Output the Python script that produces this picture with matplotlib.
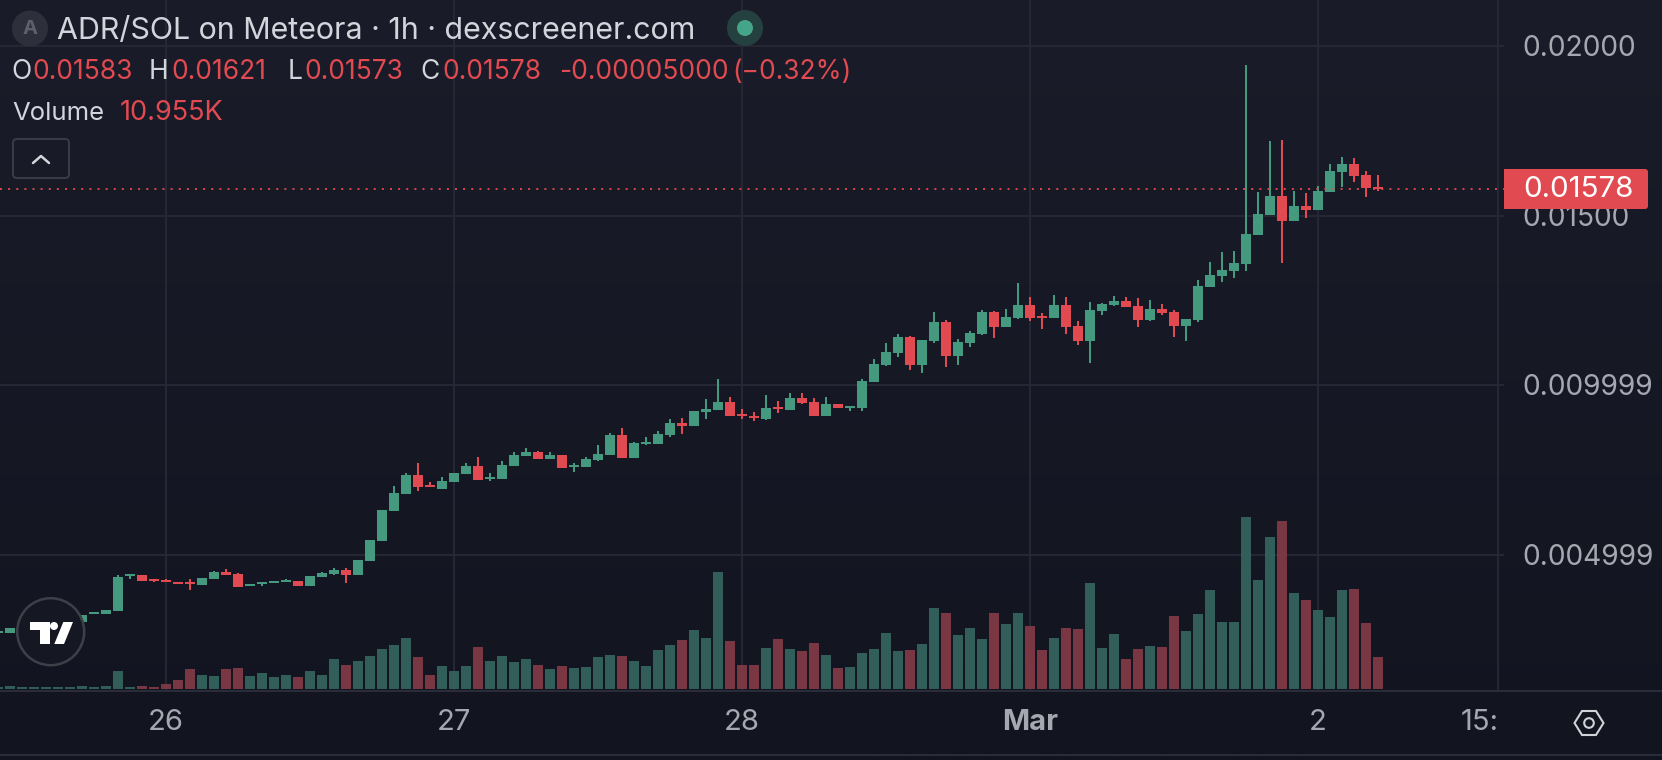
import numpy as np
import matplotlib
matplotlib.use('Agg')
import matplotlib.pyplot as plt
from matplotlib.patches import Circle, Polygon, FancyBboxPatch, Rectangle
from matplotlib.transforms import Bbox, TransformedBbox, IdentityTransform

# OHLC in units of 0.00001 SOL, one candle per hour
opens = [273, 273, 287, 291, 294, 297, 301, 305, 329, 329, 337, 440, 443, 432, 429, 423, 423, 414, 432, 452,
         446, 411, 417, 420, 423, 426, 411, 437, 446, 458, 443, 484, 543, 632, 682, 738, 708, 696, 717, 740,
         764, 726, 726, 764, 793, 805, 785, 796, 761, 761, 782, 796, 855, 788, 829, 829, 855, 890, 882, 923,
         929, 952, 917, 911, 902, 938, 929, 964, 952, 911, 946, 934, 934, 1011, 1061, 1096, 1143, 1061, 1132, 1187,
         1087, 1126, 1152, 1217, 1173, 1199, 1237, 1205, 1199, 1237, 1176, 1132, 1220, 1237, 1249, 1234, 1193, 1226, 1217, 1176,
         1193, 1290, 1323, 1337, 1358, 1443, 1502, 1558, 1484, 1529, 1517, 1570, 1629, 1652, 1620, 1583]
highs = [279, 287, 291, 295, 297, 302, 306, 326, 334, 340, 443, 446, 443, 432, 432, 423, 432, 434, 455, 461,
         449, 417, 423, 426, 432, 426, 440, 452, 464, 464, 487, 546, 634, 705, 743, 773, 717, 732, 743, 773,
         790, 743, 779, 805, 817, 808, 805, 796, 773, 790, 826, 861, 876, 835, 849, 867, 902, 905, 926, 961,
         1020, 967, 932, 923, 973, 955, 979, 979, 964, 967, 946, 940, 1020, 1079, 1126, 1152, 1146, 1134, 1217, 1193,
         1137, 1161, 1223, 1220, 1226, 1302, 1261, 1214, 1267, 1261, 1190, 1246, 1243, 1264, 1261, 1258, 1252, 1240, 1223, 1196,
         1311, 1364, 1393, 1396, 1943, 1570, 1720, 1723, 1573, 1567, 1587, 1652, 1673, 1670, 1632, 1621]
lows = [273, 273, 286, 290, 293, 296, 300, 305, 329, 329, 337, 432, 426, 423, 423, 417, 399, 414, 432, 443,
        408, 411, 411, 420, 423, 411, 411, 437, 443, 420, 443, 484, 543, 632, 682, 690, 702, 696, 717, 740,
        723, 720, 726, 764, 793, 785, 785, 758, 746, 761, 779, 796, 788, 788, 826, 829, 849, 858, 882, 902,
        929, 911, 902, 896, 899, 920, 929, 946, 911, 911, 934, 926, 926, 1011, 1058, 1084, 1046, 1037, 1126, 1055,
        1061, 1114, 1149, 1140, 1173, 1196, 1190, 1167, 1199, 1152, 1120, 1067, 1208, 1234, 1232, 1173, 1190, 1208, 1143, 1132,
        1187, 1290, 1305, 1317, 1337, 1443, 1502, 1361, 1484, 1493, 1517, 1570, 1585, 1599, 1555, 1573]
closes = [279, 287, 291, 294, 297, 301, 305, 326, 334, 340, 437, 446, 426, 426, 423, 417, 417, 434, 452, 443,
          408, 417, 423, 426, 429, 411, 440, 449, 458, 443, 487, 546, 634, 684, 737, 702, 702, 720, 743, 764,
          723, 732, 767, 796, 805, 785, 796, 758, 767, 785, 799, 855, 788, 832, 835, 858, 890, 882, 926, 932,
          952, 911, 911, 905, 935, 932, 964, 949, 911, 946, 934, 940, 1014, 1064, 1099, 1143, 1061, 1134, 1187, 1087,
          1129, 1155, 1217, 1173, 1202, 1237, 1199, 1199, 1237, 1173, 1132, 1223, 1240, 1249, 1232, 1193, 1226, 1214, 1176, 1196,
          1293, 1326, 1340, 1361, 1446, 1505, 1558, 1484, 1529, 1517, 1573, 1632, 1652, 1617, 1582, 1578]
# volume in thousands
volumes = [0.7, 1.0, 0.7, 0.7, 0.7, 0.7, 0.7, 1.0, 0.7, 1.0, 6.2, 0.7, 1.0, 0.7, 1.7, 3.1, 6.8, 4.8, 4.4, 6.8,
           7.2, 4.4, 5.5, 4.1, 4.8, 4.1, 6.2, 4.8, 10.3, 8.2, 9.6, 11.3, 13.7, 15.0, 17.4, 10.9, 4.8, 7.9, 6.2, 7.9,
           14.4, 9.6, 11.3, 9.2, 10.3, 8.2, 6.8, 7.9, 7.2, 7.5, 10.9, 11.6, 11.3, 9.6, 7.9, 13.3, 15.0, 16.8, 20.2, 17.4,
           40.0, 16.4, 8.2, 8.2, 14.0, 17.1, 13.7, 13.0, 15.7, 11.6, 7.2, 7.5, 12.3, 13.7, 19.2, 13.0, 13.3, 15.4, 27.7, 26.0,
           18.5, 20.9, 17.1, 26.0, 22.2, 26.0, 21.5, 13.3, 17.4, 20.9, 20.5, 36.3, 14.0, 18.8, 10.3, 13.7, 14.7, 14.4, 25.0, 19.8,
           25.7, 33.9, 22.9, 22.9, 58.8, 37.3, 52.0, 57.5, 32.8, 30.4, 27.0, 24.6, 33.9, 34.2, 22.6, 10.955]

price_ticks = [2000, 1500, 1003, 503]
price_labels = ['0.02000', '0.01500', '0.009999', '0.004999']
time_ticks = [14, 38, 62, 86, 110, 125]
time_labels = ['26', '27', '28', 'Mar', '2', '15:00']

GREEN = '#45997f'
RED = '#e24a52'
VOL_GREEN = '#33635d'
VOL_RED = '#7e3a45'
GRID = '#252834'
LINE = '#2b2e3a'
TICK_COL = '#a6a8b1'
TEXT_COL = '#d3d5dc'

plt.rcParams['font.family'] = ['Inter', 'DejaVu Sans']

fig = plt.figure(figsize=(16.62, 7.6), dpi=100)
W, H = 1662.0, 760.0

# background, slightly lighter at the top
bg = fig.add_axes([0, 0, 1, 1], zorder=0)
top_c = np.array([0x1a, 0x1d, 0x29]) / 255
bot_c = np.array([0x12, 0x14, 0x20]) / 255
grad = np.linspace(0, 1, 256)[:, None, None] * (bot_c - top_c) + top_c
bg.imshow(grad, aspect='auto', extent=[0, 1, 0, 1])
bg.axis('off')

# price pane, 0..1504 px wide and 0..690 px from the top
ax = fig.add_axes([0, (H - 690) / H, 1504 / W, 690 / H], zorder=1)
ax.patch.set_visible(False)
ax_vol = ax.twinx()
ax_vol.set_zorder(2)

x = np.arange(len(opens))
o = np.array(opens)
c = np.array(closes)
cols = [GREEN if cl >= op else RED for op, cl in zip(opens, closes)]
vol_cols = [VOL_GREEN if cl >= op else VOL_RED for op, cl in zip(opens, closes)]

ax.vlines(x, lows, highs, colors=cols, linewidth=1.44, zorder=3)
ax.bar(x, np.abs(c - o), bottom=np.minimum(o, c), width=0.83, color=cols, linewidth=0, zorder=4)
ax.axhline(closes[-1], color=RED, linewidth=1.3, linestyle=(0, (1.1, 3.4)), zorder=5)

ax.set_xlim(2 / 12, 125.5)
ax.set_ylim(105.1, 2134.4)
ax.set_xticks(time_ticks)
ax.set_xticklabels(time_labels)
ax.set_yticks(price_ticks)
ax.set_yticklabels(price_labels)
ax.yaxis.tick_right()
ax.grid(True, color=GRID, linewidth=1.5)
ax.set_axisbelow(True)
ax.tick_params(axis='y', length=0, pad=13, labelsize=20.3, labelcolor=TICK_COL)
ax.tick_params(axis='x', length=0, pad=13.5, labelsize=21, labelcolor=TICK_COL)
for s in ax.spines.values():
    s.set_visible(False)
ax.get_xticklabels()[3].set_fontweight('bold')

# the last time label is cut off by the price scale
clip = TransformedBbox(Bbox([[0, 0], [1499, 760]]), IdentityTransform())
ax.get_xticklabels()[-1].set_clip_box(clip)
ax.get_xticklabels()[-1].set_clip_on(True)

ax_vol.bar(x, volumes, width=0.83, color=vol_cols, alpha=0.95, linewidth=0)
ax_vol.set_ylim(-0.34, 235.6)
ax_vol.axis('off')

# everything around the chart, in pixels
ui = fig.add_axes([0, 0, 1, 1], zorder=3)
ui.set_xlim(0, W)
ui.set_ylim(H, 0)
ui.axis('off')

ui.plot([0, 1504], [691, 691], color=LINE, linewidth=1.4)
ui.plot([1506, W], [691, 691], color=LINE, linewidth=1.4)
ui.plot([0, W], [755, 755], color=LINE, linewidth=1.4)

# header
ui.add_patch(Circle((30, 28.5), 18, color='#2d303b', linewidth=0))
ui.text(30, 28.5, 'A', color='#5e616c', fontsize=14.5, fontweight='bold', ha='center', va='center')
ui.text(57, 39.5, 'ADR/SOL on Meteora · 1h · dexscreener.com', color=TEXT_COL, fontsize=21.9, va='baseline')
ui.add_patch(Circle((745, 28), 18, color='#24403f', linewidth=0))
ui.add_patch(Circle((745, 28), 8, color='#45a589', linewidth=0))

row = [(11, 'O', TEXT_COL), (32, '0.01583', RED), (149, 'H', TEXT_COL), (171, '0.01621', RED),
       (288, 'L', TEXT_COL), (304, '0.01573', RED), (420, 'C', TEXT_COL), (442, '0.01578', RED),
       (559, '-0.00005000', RED), (732, '(−0.32%)', RED)]
for tx, s, col in row:
    ui.text(tx, 79, s, color=col, fontsize=19, va='baseline')
ui.text(12, 120, 'Volume', color=TEXT_COL, fontsize=18.5, va='baseline')
ui.text(120, 120, '10.955K', color=RED, fontsize=19.5, va='baseline')

ui.add_patch(FancyBboxPatch((13, 139), 56, 39, boxstyle='round,pad=0,rounding_size=4',
                            facecolor='none', edgecolor='#3a3d48', linewidth=1.4))
ui.plot([33, 41, 49], [163, 156, 163], color=TEXT_COL, linewidth=1.8, solid_capstyle='round')

# last price tag
ui.add_patch(FancyBboxPatch((1504, 169), 144, 40, boxstyle='round,pad=0,rounding_size=3',
                            facecolor=RED, edgecolor='none'))
ui.add_patch(Rectangle((1504, 169), 6, 40, facecolor=RED, edgecolor='none'))
ui.text(1523, 189.5, '0.01578', color='white', fontsize=21.3, va='center')

# settings icon
hex_x = [1574.5, 1582, 1596, 1603.5, 1596, 1582]
hex_y = [723, 711, 711, 723, 735, 735]
ui.add_patch(Polygon(list(zip(hex_x, hex_y)), closed=True, facecolor='none', edgecolor='#d0d2d8', linewidth=1.5))
ui.add_patch(Circle((1589, 723), 4.8, facecolor='none', edgecolor='#d0d2d8', linewidth=1.5))

# tradingview logo
ui.add_patch(Circle((50.7, 631.7), 33.5, facecolor='#151723', edgecolor='#3e4049', linewidth=1.8))
ui.add_patch(Polygon([(30, 622), (50, 622), (50, 644), (40, 644), (40, 630), (30, 630)], closed=True,
                     facecolor='white', edgecolor='none'))
ui.add_patch(Circle((54, 626), 4, facecolor='white', edgecolor='none'))
ui.add_patch(Polygon([(63.3, 622), (73, 622), (64, 644), (54.3, 644)], closed=True,
                     facecolor='white', edgecolor='none'))

fig.savefig('out.png', dpi=100)
